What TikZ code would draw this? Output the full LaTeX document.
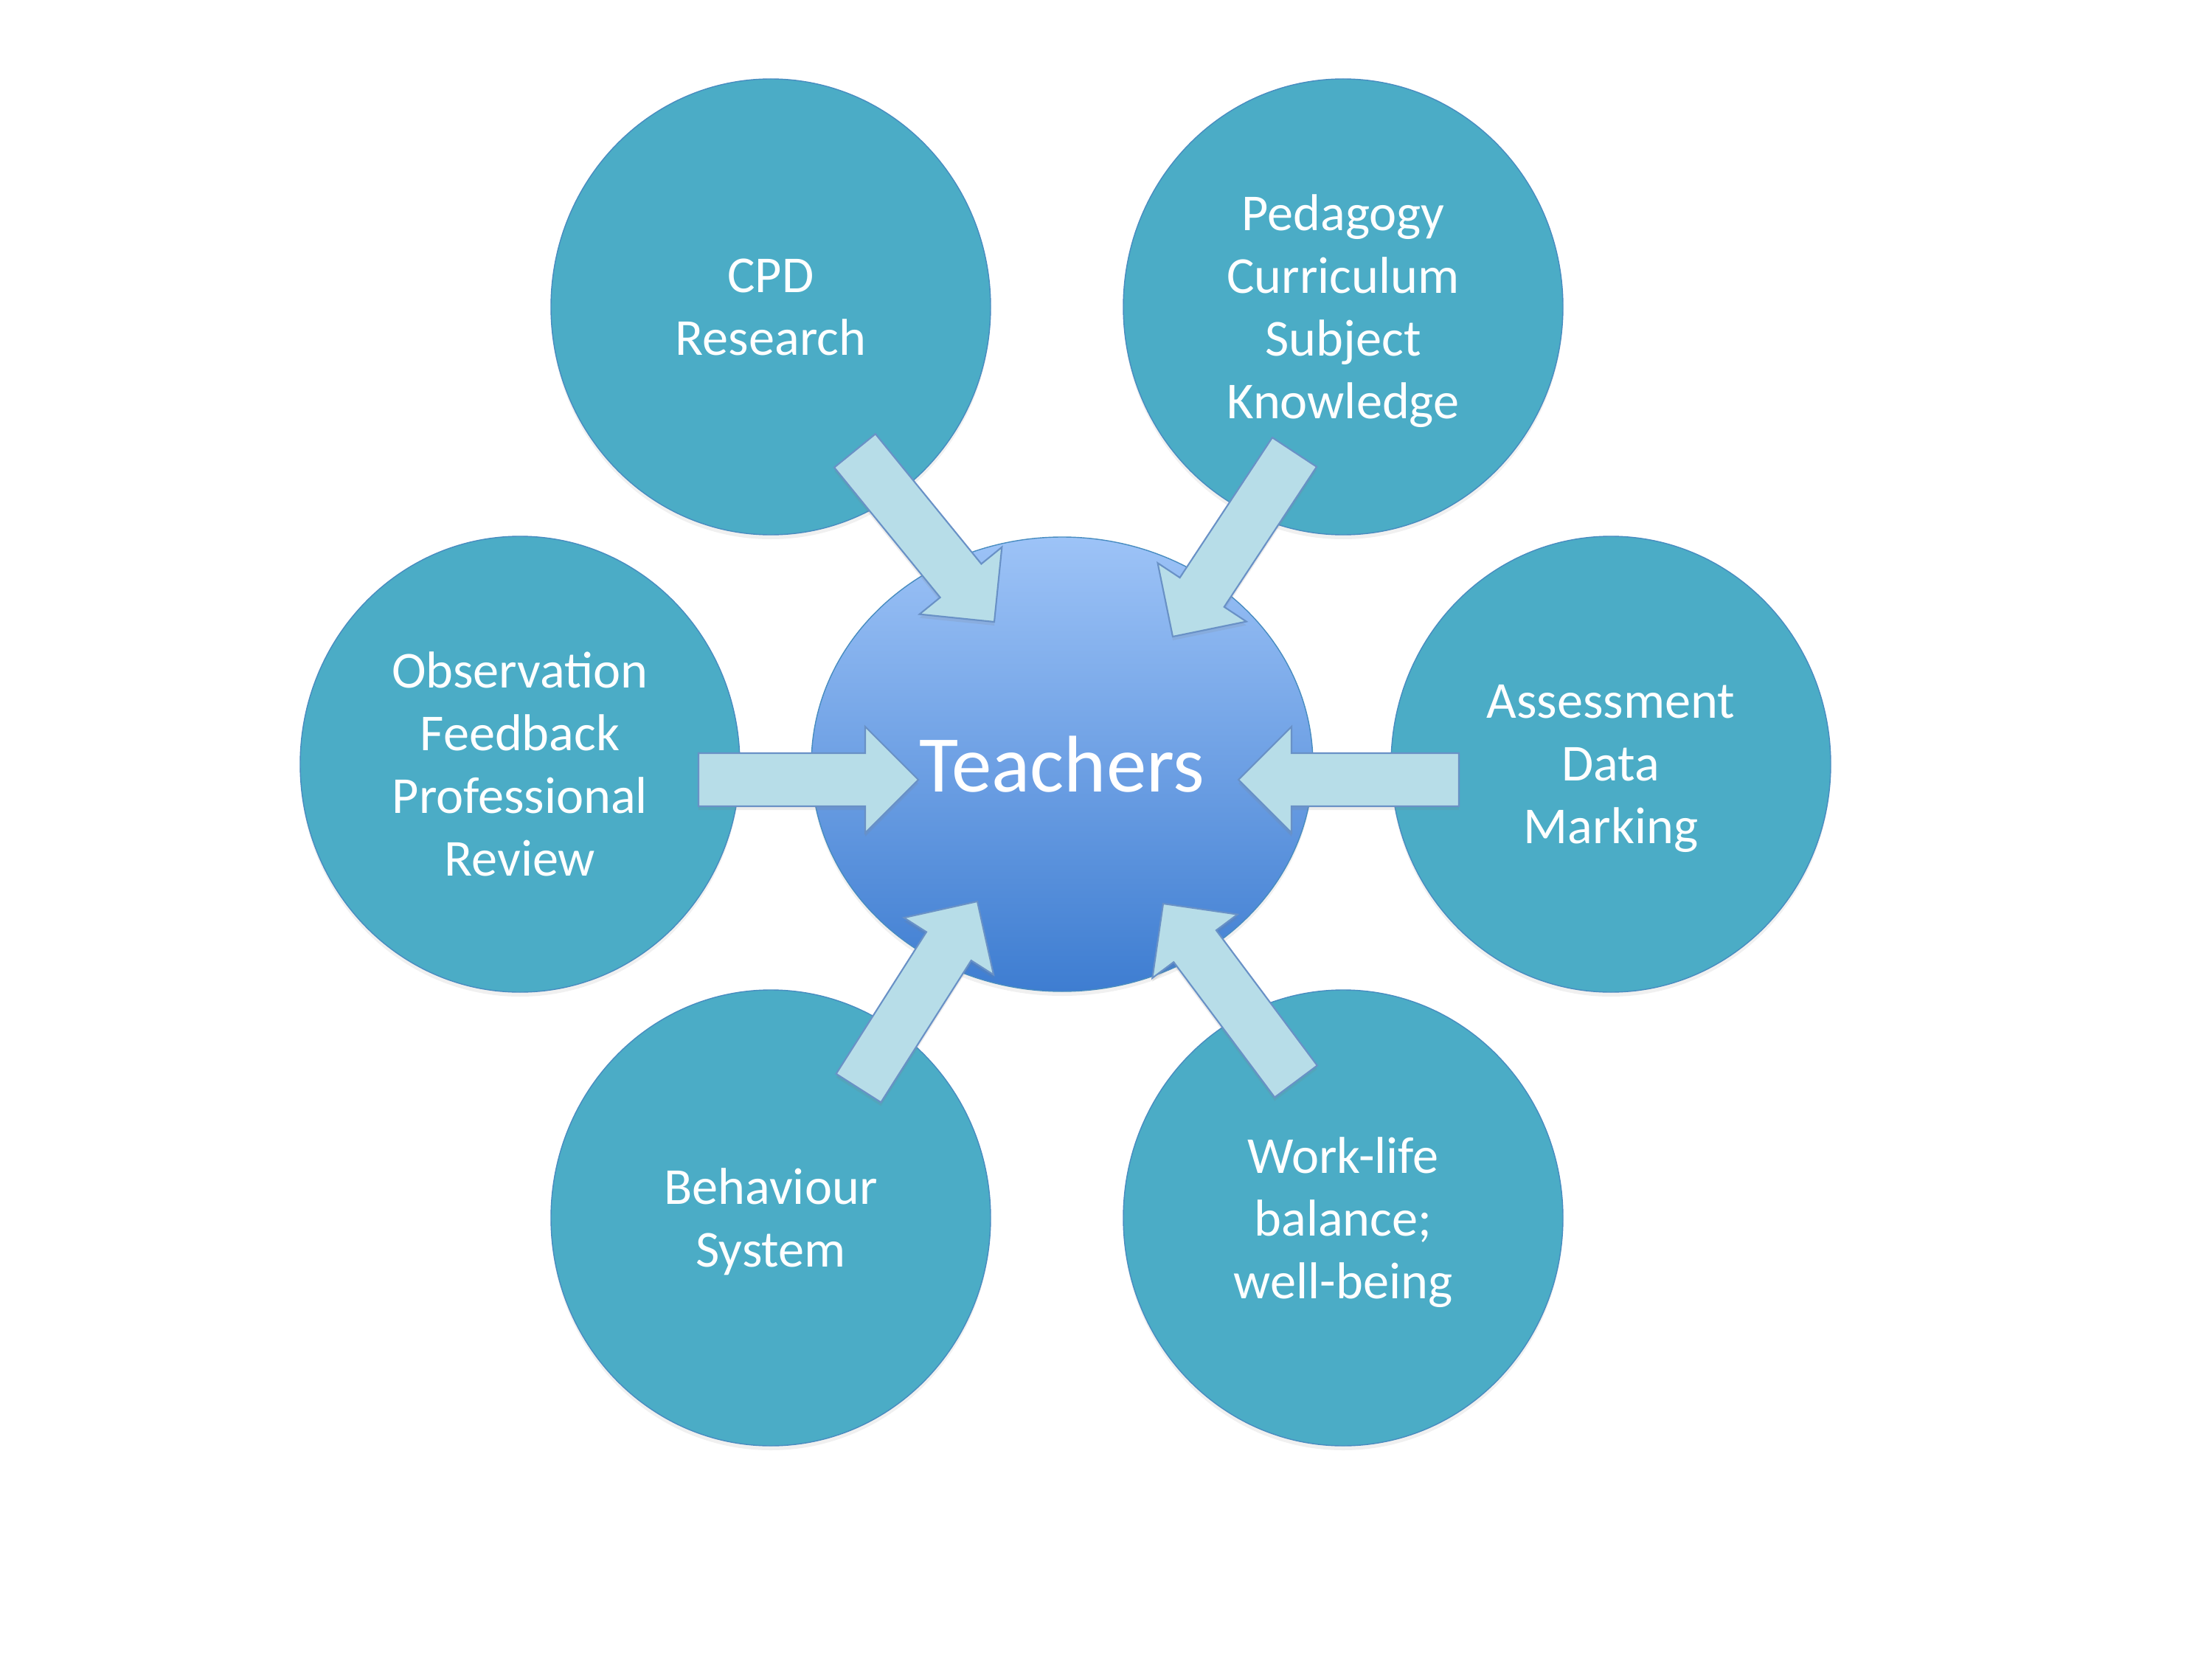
\documentclass[tikz,border=0pt]{standalone}
\usepackage{fontspec}
\setmainfont{Carlito}
\usetikzlibrary{shapes,arrows,positioning,calc,shadows}
\definecolor{topicfill}{RGB}{75,172,198}
\definecolor{topicline}{RGB}{72,140,192}
\definecolor{hubtop}{RGB}{157,195,247}
\definecolor{hubbot}{RGB}{62,125,209}
\definecolor{feedfill}{RGB}{183,221,232}
\definecolor{feedline}{RGB}{105,145,198}
\tikzstyle{topic} = [ellipse,draw=topicline,fill=topicfill,inner sep=0,minimum width=5.96cm,minimum height=6.18cm,text=white,align=center,text depth=0pt,font=\fontsize{20}{24.2}\selectfont,drop shadow={opacity=0.12,shadow xshift=0cm,shadow yshift=-0.06cm}]
\tikzstyle{hub} = [ellipse,draw=topicline,top color=hubtop,bottom color=hubbot,inner sep=0,minimum width=6.8cm,minimum height=6.16cm,text=white,font=\fontsize{31}{36}\selectfont,drop shadow={opacity=0.12,shadow xshift=0cm,shadow yshift=-0.06cm}]
\tikzstyle{feed} = [draw=feedline,fill=feedfill,line width=0.6pt,drop shadow={opacity=0.15,shadow xshift=0cm,shadow yshift=-0.05cm}]
\def \sw {0.36cm}
\def \hw {0.72cm}
\def \hl {0.72cm}
\def \feedarrow#1#2{%
  \coordinate (hb) at ($(#2)!\hl!(#1)$);
  \draw[feed] ($(#1)!\sw!90:(#2)$) -- ($(hb)!\sw!90:(#2)$) -- ($(hb)!\hw!90:(#2)$) -- (#2)
    -- ($(hb)!\hw!-90:(#2)$) -- ($(hb)!\sw!-90:(#2)$) -- ($(#1)!\sw!-90:(#2)$) -- cycle;}

\begin{document}
\begin{tikzpicture}[on grid]
  \useasboundingbox (0,0) rectangle (29.99,-22.49);
  \node[hub] (teach) at (14.40,-10.36) {Teachers};
  \node[topic,above left=6.20cm and 3.95cm of teach] (cpd) {CPD\\Research};
  \node[topic,above right=6.20cm and 3.81cm of teach] (ped) {Pedagogy\\Curriculum\\Subject\\Knowledge};
  \node[topic,left=7.35cm of teach] (obs) {Observation\\Feedback\\Professional\\Review};
  \node[topic,right=7.44cm of teach] (ass) {Assessment\\Data\\Marking};
  \node[topic,below left=6.15cm and 3.95cm of teach] (beh) {Behaviour\\System};
  \node[topic,below right=6.15cm and 3.81cm of teach] (work) {Work-life\\balance;\\well-being};
  % arrow ends
  \coordinate (cpd-t) at ([shift={(1.14,-1.95)}]cpd.center);
  \coordinate (cpd-h) at ([shift={(-0.92,1.93)}]teach.center);
  \coordinate (ped-t) at ([shift={(-0.66,-1.97)}]ped.center);
  \coordinate (ped-h) at ([shift={(1.50,1.73)}]teach.center);
  \coordinate (obs-t) at ([shift={(2.42,-0.21)}]obs.center);
  \coordinate (obs-h) at ([shift={(-1.95,-0.21)}]teach.center);
  \coordinate (ass-t) at ([shift={(-2.06,-0.21)}]ass.center);
  \coordinate (ass-h) at ([shift={(2.39,-0.21)}]teach.center);
  \coordinate (beh-t) at ([shift={(1.19,1.76)}]beh.center);
  \coordinate (beh-h) at ([shift={(-1.15,-1.86)}]teach.center);
  \coordinate (work-t) at ([shift={(-0.64,1.85)}]work.center);
  \coordinate (work-h) at ([shift={(1.37,-1.89)}]teach.center);
  \foreach \s in {cpd,ped,obs,ass,beh,work}{
    \feedarrow{\s-t}{\s-h}
  }
\end{tikzpicture}
\end{document}
